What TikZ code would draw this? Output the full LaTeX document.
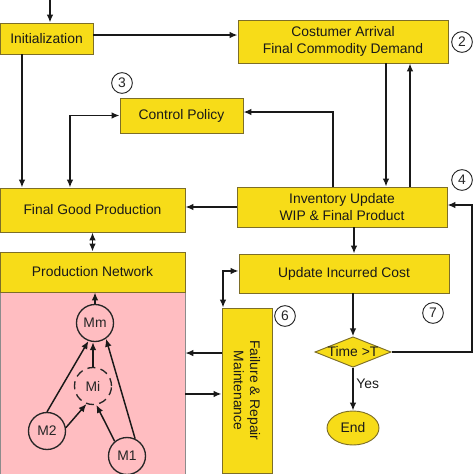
\documentclass[tikz,border=0pt]{standalone}
\usepackage{fontspec}
\setmainfont{Liberation Sans}
\usepackage{tikz}
\usetikzlibrary{arrows.meta,positioning,shapes,calc}
\definecolor{boxyellow}{RGB}{247,220,24}
\definecolor{boxedge}{RGB}{125,110,40}
\definecolor{cellpink}{RGB}{255,189,193}
\newcommand\diagfont{\fontsize{10.4}{12.2}\selectfont}
\tikzset{
  block/.style={
    draw=boxedge,
    fill=boxyellow,
    line width=0.7pt,
    inner sep=0pt,
    align=center,
    text=black!90,
    font=\diagfont
  },
  wide block/.style={
    block,
    minimum width=157.5pt
  },
  half block/.style={
    block,
    minimum width=138.75pt
  },
  decision/.style={
    block,
    shape=diamond,
    aspect=2.5
  },
  terminal/.style={
    block,
    shape=ellipse,
    minimum width=39pt,
    minimum height=25.5pt
  },
  cell/.style={
    draw=black!45,
    fill=cellpink,
    line width=0.5pt,
    minimum width=138.75pt,
    minimum height=136.5pt
  },
  machine/.style={
    draw=black!85,
    shape=circle,
    line width=1pt,
    inner sep=0pt,
    minimum size=27.75pt,
    text=black!85,
    font=\diagfont
  },
  idle machine/.style={
    machine,
    dash pattern=on 6pt off 4pt
  },
  num circle/.style={
    draw=black!85,
    shape=circle,
    line width=0.7pt,
    inner sep=0pt,
    minimum size=15.5pt,
    text=black!85,
    font=\diagfont
  }
}

\begin{document}
\begin{tikzpicture}[x=0.75pt, y=-0.75pt, >={Latex[length=6pt,width=5pt]}, line width=1.1pt, draw=black!90]
   \useasboundingbox (0,0) rectangle (474,474);

   % machine cell
   \node[cell] (cell) at (92.5,383) {};

   % blocks
   \node[block, minimum width=69.75pt, minimum height=23.25pt] (init) at (46.5,38.5) {Initialization};
   \node[wide block, minimum height=32.25pt] (arrival) at (343,41.5) {Costumer Arrival\\Final Commodity Demand};
   \node[block, minimum width=92.25pt, minimum height=26.25pt] (policy) at (181.5,115.5) {Control Policy};
   \node[half block, minimum height=33pt] (final) at (92.5,210) {Final Good Production};
   \node[wide block, minimum height=30pt] (inventory) at (342,207) {Inventory Update\\WIP \& Final Product};
   \node[half block, minimum height=30pt] (network) at (92.5,272) {Production Network};
   \node[wide block, minimum height=29.25pt] (cost) at (344,273.5) {Update Incurred Cost};
   \node[block, minimum width=37.5pt, minimum height=123.75pt,
         label={[rotate=-90, align=center, font=\diagfont, text=black!90]center:Failure \& Repair\\Maintenance}] (repair) at (247,390.5) {};
   \node[decision] (check) at (353,352) {Time >T};
   \node[terminal] (finish) at (353,428) {End};

   % step numbers
   \node[num circle] (n2) at (462,42) {2};
   \node[num circle] (n3) at (122,83) {3};
   \node[num circle] (n4) at (462,180) {4};
   \node[num circle] (n6) at (285,316) {6};
   \node[num circle] (n7) at (433,313) {7};

   % machines
   \node[machine] (mm) at (95,323) {Mm};
   \node[idle machine] (mi) at (93,386) {Mi};
   \node[machine] (m2) at (47,431) {M2};
   \node[machine] (m1) at (127,456) {M1};

   \coordinate (entry) at (50,0);
   \coordinate (back) at (472,205);

   % flow
   \draw[->] (entry) -- (entry |- init.north);
   \draw[->] ([yshift=2.6pt]init.east) -- ([yshift=2.6pt]init.east -| arrival.west);
   \draw[->] ([xshift=-18.4pt]init.south) -- ([xshift=-18.4pt]init.south |- final.north);
   \draw[<->] (policy.west) -| ([xshift=-16.9pt]final.north);
   \draw[->] ([xshift=-6.75pt]inventory.north) |- ([yshift=2.6pt]policy.east);
   \draw[->] ([xshift=32.25pt]arrival.south) -- ([xshift=32.25pt]arrival.south |- inventory.north);
   \draw[->] ([xshift=50.25pt]arrival.south |- inventory.north) -- ([xshift=50.25pt]arrival.south);
   \draw[->] (inventory.west) -- (inventory.west -| final.east);
   \draw[<->] (final) -- (network);
   \draw[->] ([xshift=9pt]inventory.south) -- ([xshift=9pt]inventory.south |- cost.north);
   \draw[<->] ([yshift=1.9pt]cost.west) -| ([xshift=-18pt]repair.north);
   \draw[->] ([yshift=28.1pt]repair.west) -- ([yshift=28.1pt]repair.west -| cell.east);
   \draw[->] ([yshift=-2.6pt]repair.west -| cell.east) -- ([yshift=-2.6pt]repair.west);
   \draw[->] (check |- cost.south) -- (check.north);
   \draw[->] (check.east) -| (back) -- (back -| inventory.east);
   \draw[->] (check) -- node[right, pos=0.37, inner sep=2pt, font=\diagfont, text=black!90] {Yes} (finish);

   % inside the cell
   \draw[->] (mm.north) -- (mm.north |- network.south);
   \path[->] (mi.north) edge (mi.north |- mm.south)
             (m2.north) edge (mm.250)
             (m1.65)    edge (mm.305)
             (m2.10)    edge (mi.250)
             (m1.130)   edge (mi.280)
   ;
\end{tikzpicture}
\end{document}
